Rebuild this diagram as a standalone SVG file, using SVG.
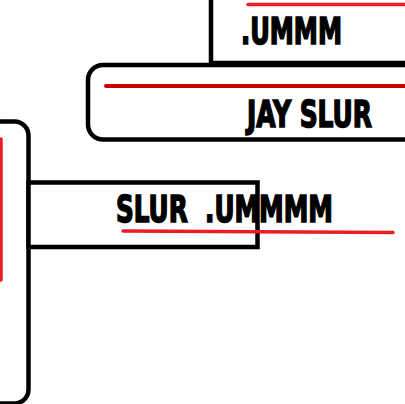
<svg xmlns="http://www.w3.org/2000/svg" width="405" height="404" viewBox="0 0 405 404">
  <style>
    .box { fill: #ffffff; stroke: #000000; stroke-width: 4.5; }
    .red { stroke: #ec1c24; stroke-width: 3.5; stroke-linecap: round; fill: none; }
    .red2 { stroke: #c80000; stroke-width: 4; stroke-linecap: round; fill: none; }
    .lbl { font-family: "DejaVu Sans Condensed", "Liberation Sans Narrow", "Liberation Sans", sans-serif; font-weight: bold; font-size: 38px; fill: #000000; stroke: #000000; stroke-width: 1.6; stroke-linejoin: miter; white-space: pre; }
  </style>
  <rect width="405" height="404" fill="#ffffff"/>
  <g id="left-box">
    <rect class="box" x="-30" y="121.5" width="58.5" height="282" rx="14" ry="14"/>
    <line class="red" x1="1" y1="139" x2="1" y2="280" stroke-linecap="butt"/>
  </g>
  <g id="top-box">
    <rect class="box" x="211" y="-10" width="210" height="73"/>
    <line class="red" x1="248" y1="4.5" x2="410" y2="4.5"/>
    <text class="lbl" x="241" y="44" textLength="101" lengthAdjust="spacingAndGlyphs">.UMMM</text>
  </g>
  <g id="middle-box">
    <rect class="box" x="88" y="65" width="340" height="74.5" rx="15" ry="15"/>
    <line class="red2" x1="106" y1="86" x2="410" y2="86"/>
    <text class="lbl" x="247" y="126.5" textLength="125" lengthAdjust="spacingAndGlyphs">JAY SLUR</text>
  </g>
  <g id="small-box">
    <rect class="box" x="28.5" y="182.5" width="229" height="64.5"/>
    <text class="lbl" x="116" y="221.5" textLength="217" lengthAdjust="spacingAndGlyphs">SLUR  .UMMMM</text>
    <line class="red" x1="123" y1="231" x2="393" y2="232.5"/>
  </g>
</svg>
